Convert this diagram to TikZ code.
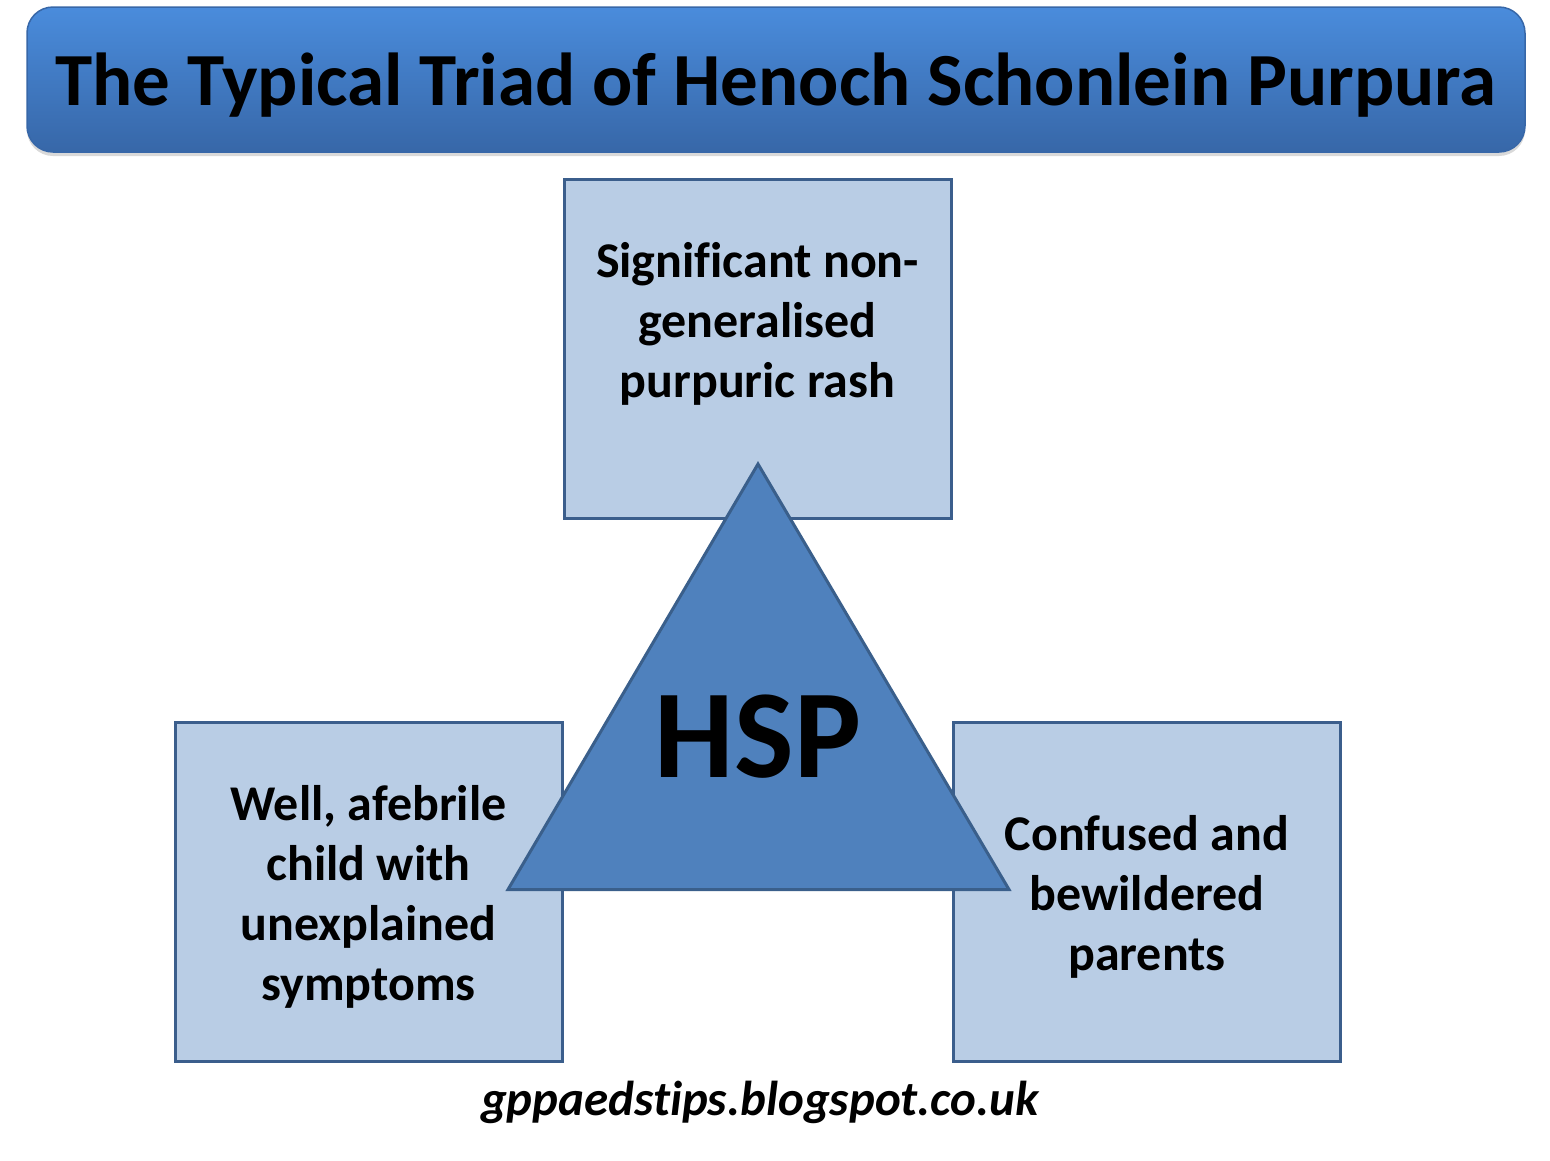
\documentclass[tikz,border=0pt]{standalone}
\usepackage{fontspec}
\setmainfont[Ligatures=NoCommon]{Carlito}
\usepackage{xcolor}
\usetikzlibrary{positioning, shadows}
\definecolor{boxfill}{HTML}{B9CDE5}
\definecolor{boxline}{HTML}{3B5E8C}
\definecolor{trifill}{HTML}{4F81BD}
\definecolor{triline}{HTML}{3A5F8B}
\definecolor{bartop}{HTML}{4A8CDC}
\definecolor{barbottom}{HTML}{3767A8}

\begin{document}
\begin{tikzpicture}[
    x=1pt, y=-1pt,
    titlebar/.style={rectangle, rounded corners=26pt, top color=bartop, bottom color=barbottom, draw=barbottom, line width=1.5pt, minimum width=1498pt, minimum height=145pt, drop shadow={shadow xshift=0pt, shadow yshift=-4pt, opacity=0.3}},
    heading/.style={font=\bfseries\fontsize{75}{90}\selectfont},
    sign/.style={rectangle, draw=boxline, fill=boxfill, line width=3pt, minimum width=387pt, minimum height=339pt},
    signtext/.style={align=center, font=\bfseries\fontsize{50}{60}\selectfont},
    triad/.style={draw=triline, fill=trifill, line width=3pt},
    core/.style={font=\bfseries\fontsize{126}{140}\selectfont},
    site/.style={font=\bfseries\itshape\fontsize{49}{58}\selectfont}
    ]
    \useasboundingbox (0,0) rectangle (1550,1160);

    \node[titlebar] (title) at (776,79.5) {};
    \node[heading] (titletext) at ([yshift=-6pt]title.center) {The Typical Triad of Henoch Schonlein Purpura};

    \node[sign] (rash) at (757.5,349) {};
    \node[sign] (child) at (368.5,891.5) {};
    \node[sign] (parents) at (1147,891.5) {};

    \node[signtext] (rashtext) at ([yshift=25pt]rash.center) {Significant non-\\generalised\\purpuric rash};
    \node[signtext] (childtext) at ([yshift=-5pt]child.center) {Well, afebrile\\child with\\unexplained\\symptoms};
    \node[signtext] (parentstext) at ([yshift=-5pt]parents.center) {Confused and\\bewildered\\parents};

    \coordinate (apex) at (758,464);
    \coordinate (baseleft) at (508,889.5);
    \coordinate (baseright) at (1009,889.5);
    \draw[triad] (apex) -- (baseleft) -- (baseright) -- cycle;

    \node[core] (hsp) at (758,737) {HSP};

    \node[site] (blog) at (760,1102) {gppaedstips.blogspot.co.uk};

\end{tikzpicture}
\end{document}
